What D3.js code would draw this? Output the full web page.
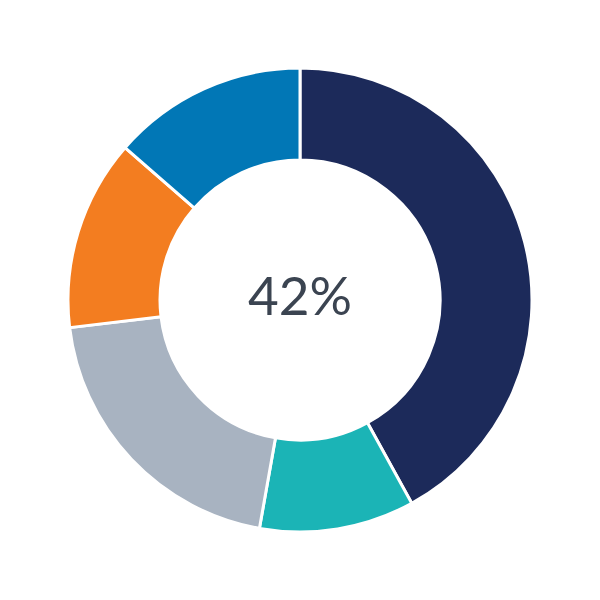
<!DOCTYPE html>
<html>
<head>
<meta charset="utf-8">
<script src="https://cdn.jsdelivr.net/npm/d3@7"></script>
<style>
  body { margin: 0; background: #fff; }
</style>
</head>
<body>
<div id="chart"></div>
<script>
// Slice data, clockwise from 12 o'clock
const categories = ["A", "B", "C", "D", "E"];
const values = [42, 10.8, 20.3, 13.3, 13.6];
const colors = ["#1c2a5a", "#1bb4b6", "#a8b3c1", "#f37d20", "#0177b6"];
const centerLabel = "42%";

const width = 600, height = 600;
const outerR = 232, innerR = 140;

const svg = d3.select("#chart")
    .append("svg")
        .attr("width", width)
        .attr("height", height)
    .append("g")
        .attr("transform", `translate(${width / 2},${height / 2})`);

const pie = d3.pie()
    .sort(null)
    .value(d => d.value);

const arc = d3.arc()
    .innerRadius(innerR)
    .outerRadius(outerR);

const data = categories.map((c, i) => ({name: c, value: values[i]}));

const color = d3.scaleOrdinal()
    .domain(categories)
    .range(colors);

svg.selectAll("path")
    .data(pie(data))
    .join("path")
        .attr("d", arc)
        .attr("fill", d => color(d.data.name))
        .attr("stroke", "#fff")
        .attr("stroke-width", 3);

// Center label
svg.append("text")
    .attr("text-anchor", "middle")
    .attr("dy", "0.35em")
    .attr("y", -4)
    .style("font-family", "Lato, 'Open Sans', sans-serif")
    .style("font-size", "53px")
    .style("fill", "#3b4451")
    .text(centerLabel);
</script>
</body>
</html>
